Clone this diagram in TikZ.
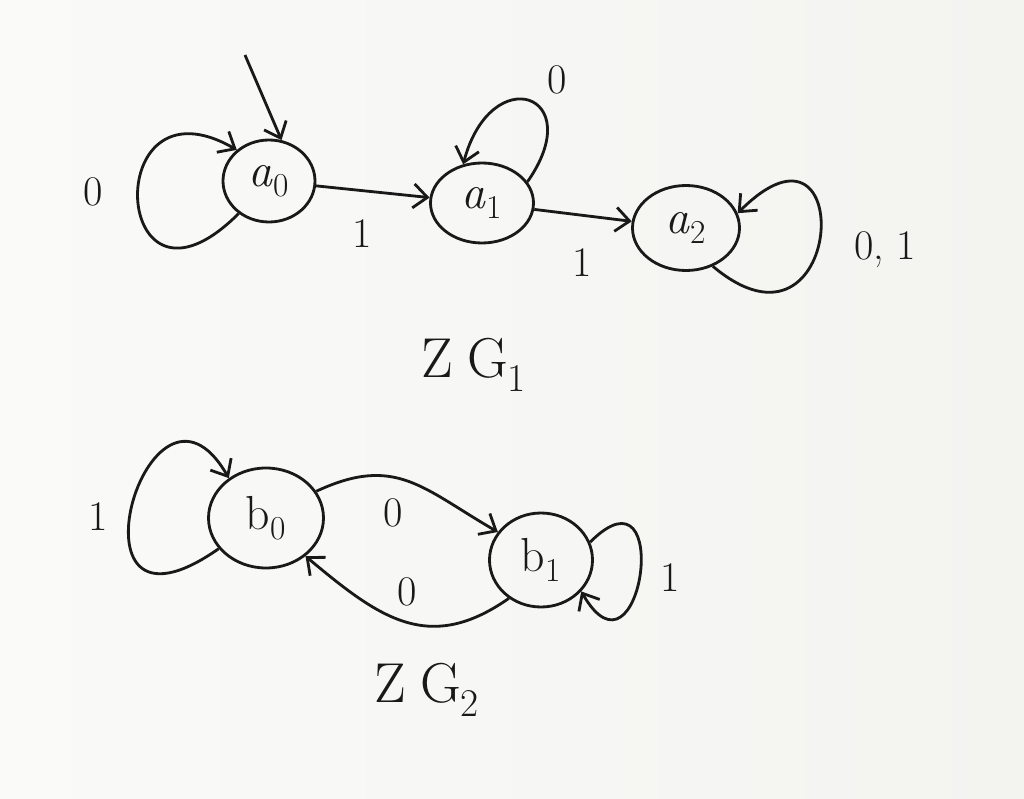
\documentclass[tikz,border=0pt]{standalone}
\usetikzlibrary{positioning,shapes.geometric,arrows.meta}

\definecolor{ink}{RGB}{25,25,25}
\definecolor{paperl}{RGB}{250,250,249}
\definecolor{paperr}{RGB}{243,243,240}

\tikzstyle{state} = [ellipse, draw=ink, line width=2pt, inner sep=0pt, text=ink, font=\fontsize{34}{40}\selectfont]
\tikzstyle{lbl} = [text=ink, font=\fontsize{30}{36}\selectfont]
\tikzstyle{title} = [text=ink, font=\fontsize{40}{48}\selectfont]
\tikzstyle{arrow} = [line width=2pt, draw=ink, ->, >={Straight Barb[length=3.5mm,width=6mm]}]

\begin{document}
\begin{tikzpicture}
  \useasboundingbox [left color=paperl, right color=paperr] (-6.725,4.525) rectangle (18.875,-15.45);

  % first automaton
  \node (a0) [state, minimum width=2.3cm, minimum height=2.05cm] {\textit{a}\textsubscript{0}};
  \node (a1) [state, minimum width=2.575cm, minimum height=2cm, right of=a0, xshift=4.325cm, yshift=-0.55cm] {\textit{a}\textsubscript{1}};
  \node (a2) [state, minimum width=2.675cm, minimum height=2.125cm, right of=a1, xshift=4.1cm, yshift=-0.625cm] {\textit{a}\textsubscript{2}};
  \coordinate [above of=a0, xshift=-0.6cm, yshift=2.15cm] (init);
  \node (lbl-a00) [lbl, left of=a0, xshift=-3.4cm, yshift=-0.275cm] {0};
  \node (lbl-a01) [lbl, right of=a0, xshift=1.325cm, yshift=-1.325cm] {1};
  \node (lbl-a11) [lbl, above of=a1, xshift=1.875cm, yshift=2.075cm] {0};
  \node (lbl-a12) [lbl, right of=a1, xshift=1.5cm, yshift=-1.5cm] {1};
  \node (lbl-a22) [lbl, right of=a2, xshift=3.975cm, yshift=-0.55cm] {0, 1};
  \node (zg1) [title, below of=a1, xshift=-0.2cm, yshift=-3.05cm] {Z\hspace{0.25em}G\textsubscript{1}};

  % second automaton
  \node (b0) [state, minimum width=2.875cm, minimum height=2.5cm, below of=a0, xshift=-0.075cm, yshift=-7.425cm] {b\textsubscript{0}};
  \node (b1) [state, minimum width=2.575cm, minimum height=2.35cm, right of=b0, xshift=5.875cm, yshift=-1.05cm] {b\textsubscript{1}};
  \node (lbl-b00) [lbl, left of=b0, xshift=-3.2cm, yshift=0.025cm] {1};
  \node (lbl-b01) [lbl, right of=b0, xshift=2.175cm, yshift=0.125cm] {0};
  \node (lbl-b10) [lbl, right of=b0, xshift=2.525cm, yshift=-1.85cm] {0};
  \node (lbl-b11) [lbl, right of=b1, xshift=2.225cm, yshift=-0.45cm] {1};
  \node (zg2) [title, below of=b0, xshift=4.025cm, yshift=-3.3cm] {Z\hspace{0.25em}G\textsubscript{2}};

  \draw [arrow] (init) -- (a0.73);
  \draw [arrow] (a0.227) to[out=225, in=150, out distance=4.5cm, in distance=4cm] (a0.136);
  \draw [arrow] (a0) -- (a1);
  \draw [arrow] (a1.25) to[out=55, in=75, distance=2.7cm] (a1.116);
  \draw [arrow] (a1) -- (a2);
  \draw [arrow] (a2.-55) to[out=-40, in=45, distance=4.3cm] (a2.16);

  \draw [arrow] (b0.213) to[out=215, in=120, out distance=5cm, in distance=4cm] (b0.133);
  \draw [arrow] (b0.28) to[out=25, in=150, looseness=1.2] (b1.147);
  \draw [arrow] (b1.230) to[out=215, in=-40, looseness=1.2] (b0.-44);
  \draw [arrow] (b1.20) to[out=45, in=-60, distance=3cm] (b1.-38);
\end{tikzpicture}
\end{document}
